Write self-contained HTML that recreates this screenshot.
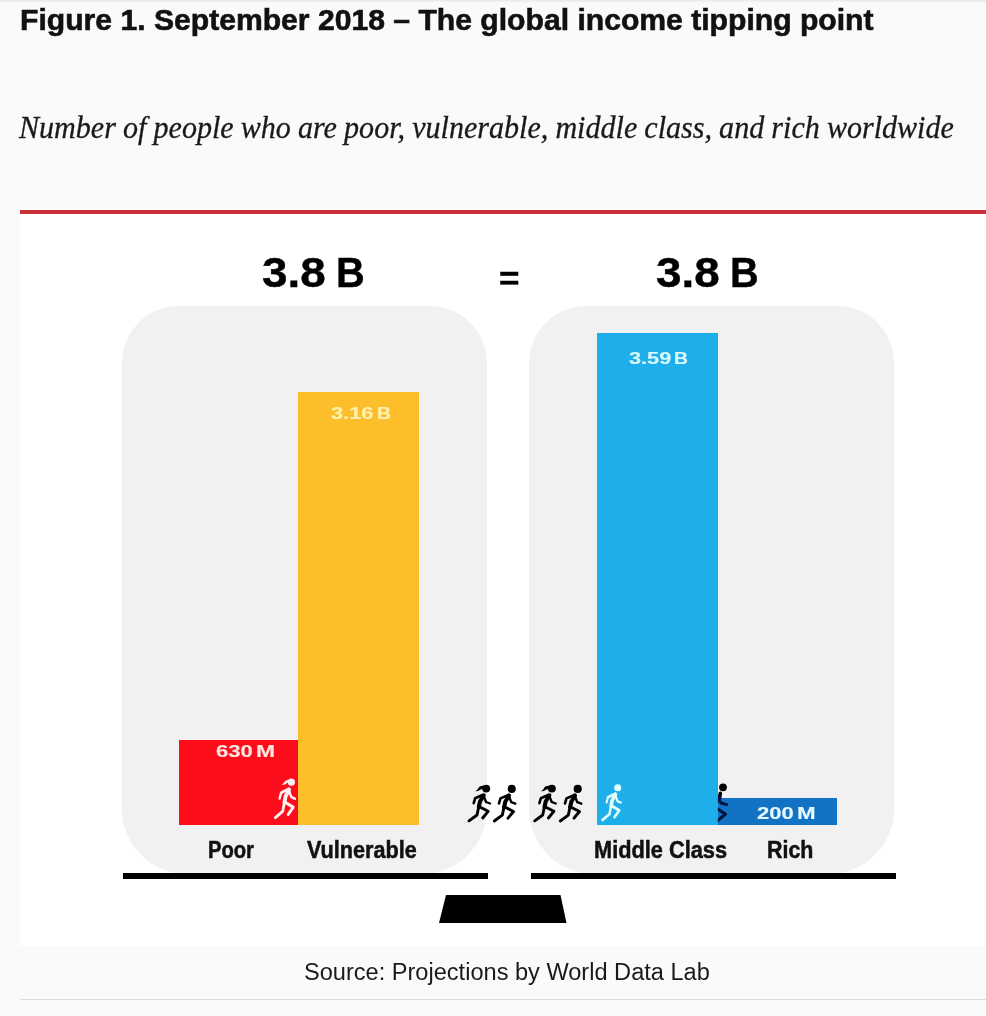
<!DOCTYPE html>
<html>
<head>
<meta charset="utf-8">
<title>Figure 1</title>
<style>
html,body{margin:0;padding:0;}
body{width:986px;height:1016px;background:#fafafa;position:relative;overflow:hidden;font-family:"Liberation Sans",sans-serif;color:#111;}
.abs{position:absolute;}
#topstrip{left:0;top:0;width:986px;height:3px;background:linear-gradient(#e9e9e9,#fafafa);}
#title{left:20px;top:0px;font-weight:bold;font-size:29.5px;line-height:40px;white-space:nowrap;transform-origin:0 0;transform:scaleX(1.021);color:#111;-webkit-text-stroke:0.6px #111;}
#subtitle{left:19px;top:108px;transform:scaleX(0.97);word-spacing:-0.42px;-webkit-text-stroke:0.3px #1a1a1a;font-family:"Liberation Serif",serif;font-style:italic;font-size:31px;line-height:40px;white-space:nowrap;transform-origin:0 0;color:#1a1a1a;}
#redline{left:20px;top:210px;width:966px;height:4px;background:#c92f36;}
#panel{left:20px;top:214px;width:966px;height:732px;background:#fff;}
.grey{background:#f1f1f1;border-radius:57px 57px 65px 65px;top:306px;height:568px;}
#gl{left:122px;width:365px;}
#gr{left:528.5px;width:365.5px;}
.bar{position:absolute;}
#bred{left:179px;top:740px;width:120px;height:85.3px;background:#fb0d1b;}
#byel{left:298px;top:392px;width:120.6px;height:433.3px;background:#fdbe2b;}
#bblu{left:597.3px;top:332.8px;width:120.4px;height:492.5px;background:#1eaeea;}
#bdbl{left:717.6px;top:797.6px;width:119.6px;height:27.7px;background:#1273c4;}
.hline{background:#000;top:873px;height:6px;}
#hl{left:123px;width:364.5px;}
#hr{left:530.5px;width:365px;}
.big{-webkit-text-stroke:0.4px #000;font-weight:bold;font-size:42px;line-height:40px;white-space:nowrap;color:#000;transform-origin:0 0;}
.lab{left:0;width:986px;height:20px;-webkit-text-stroke:0.15px currentColor;font-weight:bold;font-size:16.5px;line-height:20px;white-space:nowrap;}
.bigs{left:0;width:986px;height:40px;}
.lab span,.bigs span{position:absolute;top:0;display:block;transform-origin:0 0;}
.cat{-webkit-text-stroke:0.5px #111;font-weight:bold;font-size:23.5px;line-height:28px;white-space:nowrap;transform-origin:0 0;color:#111;}
#source{left:303.5px;top:958.4px;transform:scaleX(1.025);font-size:23px;line-height:28px;white-space:nowrap;color:#1a1a1a;transform-origin:0 0;}
#botline{left:20px;top:998.7px;width:966px;height:1.2px;background:#dcdcdc;}
svg{position:absolute;left:0;top:0;}
</style>
</head>
<body>
<div class="abs" id="topstrip"></div>
<div class="abs" id="title">Figure 1. September 2018 – The global income tipping point</div>
<div class="abs" id="subtitle">Number of people who are poor, vulnerable, middle class, and rich worldwide</div>
<div class="abs" id="redline"></div>
<div class="abs" id="panel"></div>
<div class="abs grey" id="gl"></div>
<div class="abs grey" id="gr"></div>
<div class="abs big bigs" id="big1" style="top:252.6px;"><span style="left:262.1px;transform:scaleX(1.09);">3.8</span> <span style="left:335.5px;transform:scaleX(0.947);">B</span></div>
<div class="abs big" id="eq" style="left:498.5px;top:258.5px;font-size:32.5px;transform:scaleX(1.08);">=</div>
<div class="abs big bigs" id="big2" style="top:252.6px;"><span style="left:655.9px;transform:scaleX(1.09);">3.8</span> <span style="left:730.3px;transform:scaleX(0.945);">B</span></div>
<div class="bar" id="bred"></div>
<div class="bar" id="byel"></div>
<div class="bar" id="bblu"></div>
<div class="bar" id="bdbl"></div>
<div class="abs lab" id="l630" style="top:741.5px;font-size:17px;color:#ffe6df;"><span style="left:215.9px;transform:scaleX(1.299);">630</span> <span style="left:255.7px;transform:scaleX(1.345);">M</span></div>
<div class="abs lab" id="l316" style="top:403.8px;font-size:16px;color:#fdf0b0;"><span style="left:331.2px;transform:scaleX(1.359);">3.16</span> <span style="left:376.6px;transform:scaleX(1.206);">B</span></div>
<div class="abs lab" id="l359" style="top:348.8px;font-size:16px;color:#d8f8fb;"><span style="left:628.9px;transform:scaleX(1.355);">3.59</span> <span style="left:674.2px;transform:scaleX(1.206);">B</span></div>
<div class="abs lab" id="l200" style="top:804.2px;font-size:17px;color:#e6f8ff;"><span style="left:756.7px;transform:scaleX(1.295);">200</span> <span style="left:797.2px;transform:scaleX(1.311);">M</span></div>
<div class="abs cat" id="cpoor" style="left:207.5px;top:835.7px;transform:scaleX(0.858);">Poor</div>
<div class="abs cat" id="cvul" style="left:307.3px;top:835.7px;transform:scaleX(0.92);">Vulnerable</div>
<div class="abs cat" id="cmid" style="left:593.5px;top:835.7px;transform:scaleX(0.926);">Middle Class</div>
<div class="abs cat" id="crich" style="left:767px;top:835.7px;transform:scaleX(0.91);">Rich</div>
<div class="abs hline" id="hl"></div>
<div class="abs hline" id="hr"></div>
<svg width="986" height="1016" viewBox="0 0 986 1016">
  <defs>
    <g id="body" fill="none" stroke-linecap="round" stroke-linejoin="round">
      <path d="M15.7 11.3 L12 17.5 L10.8 23" stroke-width="4.1"/>
      <path d="M14.5 11 L7.2 14.2 L5.7 19.2" stroke-width="2.6"/>
      <path d="M16 13 L18 18 L22 19.5" stroke-width="2.4"/>
      <path d="M10.8 22.5 L20.2 27.3 L14.7 34" stroke-width="2.9"/>
      <path d="M10.8 22.5 L9 31 L1 36.8" stroke-width="2.9"/>
    </g>
    <g id="male"><use href="#body"/><circle cx="18.4" cy="4.7" r="4.05" stroke="none"/></g>
    <g id="female"><use href="#body"/><circle cx="18.2" cy="4.6" r="3.95" stroke="none"/><path d="M16 1.8 Q11.5 1.2 9.8 5 Q9 6.5 7.2 7.2 Q10.5 7.6 12.5 5.6 Q14 4.6 15.5 5.8 Z" stroke="none"/></g>
  </defs>
  <polygon points="446,895 560.5,895 566.5,923 439,923" fill="#000"/>
  <use href="#female" x="468" y="784" fill="#000" stroke="#000"/>
  <use href="#male" x="493.3" y="784.2" fill="#000" stroke="#000"/>
  <use href="#female" x="533.7" y="784" fill="#000" stroke="#000"/>
  <use href="#male" x="559.3" y="784.2" fill="#000" stroke="#000"/>
  <g transform="translate(274.3,777.2) scale(0.94,1.1)"><use href="#body" fill="none" stroke="#fff1f1"/></g>
  <circle cx="291.4" cy="782.2" r="3.6" fill="#fff1f1"/>
  <path d="M289.3 779.7 Q285.5 779.3 284 782.4 Q283.3 783.9 281.5 784.7 Q284.7 785.3 286.4 783.4 Q287.6 782.3 289 783.5 Z" fill="#fff1f1"/>
  <g transform="translate(601.7,783.05) scale(0.87,1)"><use href="#body" fill="none" stroke="#e2ffff"/></g>
  <circle cx="617.7" cy="787.7" r="3.55" fill="#e2ffff"/>
  <clipPath id="cr"><rect x="717.8" y="770" width="40" height="60"/></clipPath>
  <g fill="none" stroke-linecap="round" stroke-linejoin="round" clip-path="url(#cr)">
    <circle cx="723" cy="787.3" r="3.9" fill="#000" stroke="none"/>
    <path d="M720.3 793.4 L719.6 797.6" stroke="#000" stroke-width="3.6"/>
    <path d="M719.6 798 L719.2 801" stroke="#00143f" stroke-width="3.6"/>
    <path d="M719.2 800 L721 803 L726.8 804.6" stroke="#00143f" stroke-width="2.9"/>
    <path d="M717.6 809 L725.4 814 L718 820.4" stroke="#00143f" stroke-width="3.2"/>
  </g>
</svg>
<div class="abs" id="source">Source: Projections by World Data Lab</div>
<div class="abs" id="botline"></div>
</body>
</html>
